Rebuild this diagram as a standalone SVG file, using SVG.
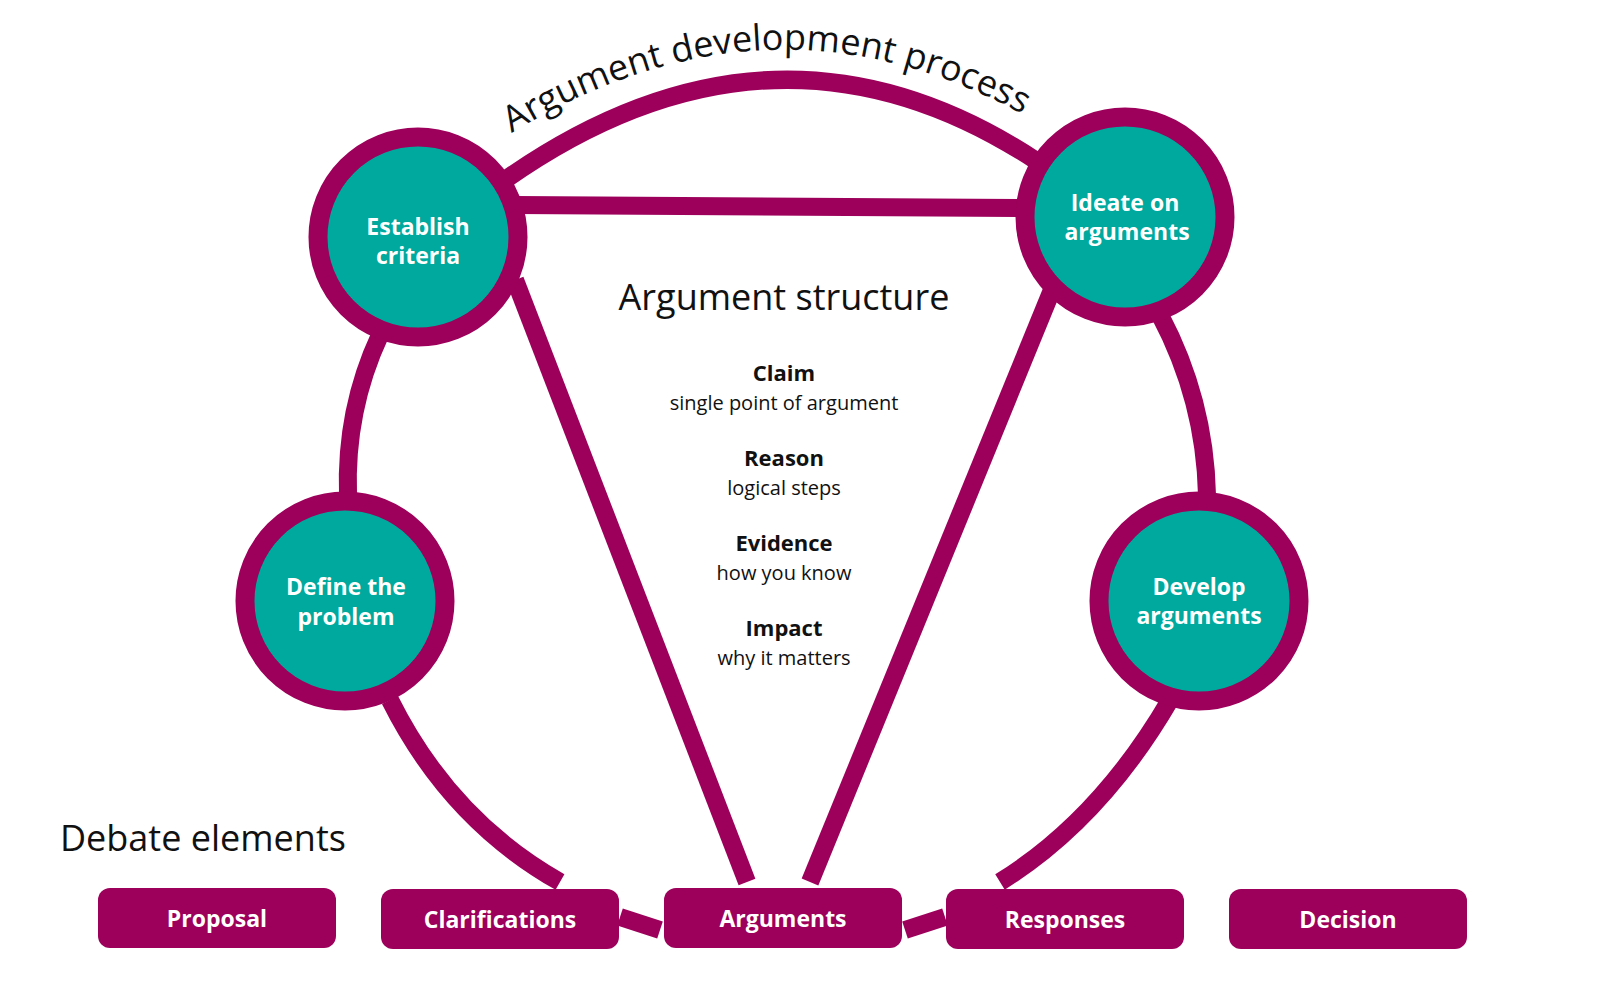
<svg xmlns="http://www.w3.org/2000/svg" width="1600" height="1000" viewBox="0 0 1600 1000">
<style>
.ln{fill:none;stroke:#9c005a;stroke-width:18}
.nd{fill:#00a99d;stroke:#9c005a;stroke-width:19}
.nt{font-family:"Open Sans",sans-serif;font-weight:bold;font-size:23px;fill:#fff;text-anchor:middle}
.bx{fill:#9c005a}
.h{font-family:"Open Sans",sans-serif;font-size:36px;fill:#111}
.b{font-family:"Open Sans",sans-serif;font-weight:bold;font-size:22px;fill:#111;text-anchor:middle}
.s{font-family:"Open Sans",sans-serif;font-size:20px;fill:#111;text-anchor:middle}
</style>
<defs><path id="tp" d="M485,150 Q770,-40 1050,130"/></defs>
<g id="connectors">
<path class="ln" d="M505,180 Q775,-10 1035,160"/>
<path class="ln" d="M380,335 Q345,410 348,495"/>
<path class="ln" d="M1160,315 Q1205,400 1207,495"/>
<path class="ln" d="M390,700 Q450,820 560,882"/>
<path class="ln" d="M1170,700 Q1100,820 1000,882"/>
<path class="ln" d="M515,205 L1020,208"/>
<path class="ln" d="M515,280 L747,882"/>
<path class="ln" d="M1052,290 L810,882"/>
<path class="ln" d="M620,917 L660,930"/>
<path class="ln" d="M905,930 L945,917"/>
</g>
<text class="h" font-size="36"><textPath href="#tp" startOffset="50%" text-anchor="middle">Argument development process</textPath></text>
<g id="establish"><circle class="nd" cx="418" cy="237" r="100"/><text class="nt" x="418" y="235">Establish</text><text class="nt" x="418" y="264">criteria</text></g>
<g id="ideate"><circle class="nd" cx="1125" cy="217" r="100"/><text class="nt" x="1125" y="211">Ideate on</text><text class="nt" x="1127" y="240">arguments</text></g>
<g id="define"><circle class="nd" cx="345" cy="601" r="100"/><text class="nt" x="346" y="595">Define the</text><text class="nt" x="346" y="625">problem</text></g>
<g id="develop"><circle class="nd" cx="1199" cy="601" r="100"/><text class="nt" x="1199" y="595">Develop</text><text class="nt" x="1199" y="624">arguments</text></g>
<g id="structure">
<text class="h" x="784" y="310" text-anchor="middle">Argument structure</text>
<text class="b" x="784" y="381">Claim</text><text class="s" x="784" y="410">single point of argument</text>
<text class="b" x="784" y="466">Reason</text><text class="s" x="784" y="495">logical steps</text>
<text class="b" x="784" y="551">Evidence</text><text class="s" x="784" y="580">how you know</text>
<text class="b" x="784" y="636">Impact</text><text class="s" x="784" y="665">why it matters</text>
</g>
<text class="h" x="60" y="851">Debate elements</text>
<g id="proposal"><rect class="bx" x="98" y="888" width="238" height="60" rx="12"/><text class="nt" x="217" y="927">Proposal</text></g>
<g id="clarifications"><rect class="bx" x="381" y="889" width="238" height="60" rx="12"/><text class="nt" x="500" y="928">Clarifications</text></g>
<g id="arguments"><rect class="bx" x="664" y="888" width="238" height="60" rx="12"/><text class="nt" x="783" y="927">Arguments</text></g>
<g id="responses"><rect class="bx" x="946" y="889" width="238" height="60" rx="12"/><text class="nt" x="1065" y="928">Responses</text></g>
<g id="decision"><rect class="bx" x="1229" y="889" width="238" height="60" rx="12"/><text class="nt" x="1348" y="928">Decision</text></g>
</svg>
